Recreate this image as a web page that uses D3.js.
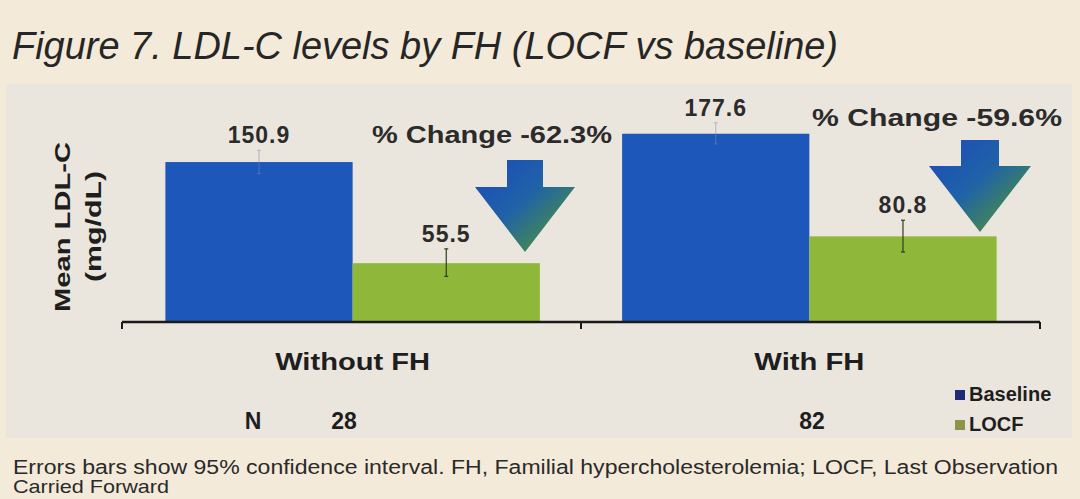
<!DOCTYPE html>
<html>
<head>
<meta charset="utf-8">
<script src="https://cdn.jsdelivr.net/npm/d3@7"></script>
<style>
  html, body { margin: 0; padding: 0; background: #f4ead9; }
  svg { display: block; }
  text { font-family: "Liberation Sans", Arial, sans-serif; fill: #1e1e1e; }
</style>
</head>
<body>
<svg id="chart" width="1080" height="499"></svg>
<script>
// data
const groups = ["Without FH", "With FH"];
const series = ["Baseline", "LOCF"];
const baseline = [150.9, 177.6];
const locf = [55.5, 80.8];
const baselineCI = [[140, 162], [168, 188]]; // 95% CI (estimated)
const locfCI = [[43, 69], [66, 96]];
const pctChange = ["-62.3%", "-59.6%"];
const nCounts = [28, 82];

const colors = { Baseline: "#1d57b9", LOCF: "#8fb83a" };

const svg = d3.select("#chart");

// panel behind chart
svg.append("rect")
  .attr("x", 6).attr("y", 84)
  .attr("width", 1066).attr("height", 354)
  .attr("fill", "#ebe6dd");

// title (condensed italic look)
svg.append("text")
  .attr("x", 12).attr("y", 59)
  .attr("font-size", 39)
  .attr("font-style", "italic")
  .attr("textLength", 826)
  .attr("lengthAdjust", "spacingAndGlyphs")
  .style("fill", "#262626")
  .text("Figure 7. LDL-C levels by FH (LOCF vs baseline)");

const axisY = 322;
const x0 = d3.scaleBand().domain(groups).range([122, 1040]).paddingInner(0.18).paddingOuter(0.095);
const x1 = d3.scaleBand().domain(series).range([0, x0.bandwidth()]);
const y = d3.scaleLinear().domain([0, 200]).range([axisY, axisY - 212]);

const rows = groups.map((g, i) => ({
  group: g,
  vals: [
    { s: "Baseline", v: baseline[i], ci: baselineCI[i] },
    { s: "LOCF", v: locf[i], ci: locfCI[i] }
  ]
}));

const gGroup = svg.selectAll(".grp")
  .data(rows)
  .enter().append("g")
  .attr("class", "grp")
  .attr("transform", d => "translate(" + x0(d.group) + ",0)");

// bars
gGroup.selectAll("rect")
  .data(d => d.vals)
  .enter().append("rect")
  .attr("x", d => x1(d.s))
  .attr("y", d => y(d.v))
  .attr("width", x1.bandwidth())
  .attr("height", d => y(0) - y(d.v))
  .attr("fill", d => colors[d.s]);

// error bars (baseline ones are faint in the original)
const ebColor = d => d.s === "Baseline" ? "#7f8ba6" : "#2f3d22";
const ebOpacity = d => d.s === "Baseline" ? 0.45 : 1;
const eb = gGroup.selectAll(".eb")
  .data(d => d.vals)
  .enter().append("g")
  .attr("class", "eb")
  .attr("opacity", ebOpacity)
  .attr("transform", d => "translate(" + (x1(d.s) + x1.bandwidth() / 2) + ",0)");
eb.append("line")
  .attr("y1", d => y(d.ci[0])).attr("y2", d => y(d.ci[1]))
  .attr("stroke", ebColor)
  .attr("stroke-width", 1.2);
eb.selectAll(".cap")
  .data(d => d.ci.map(c => ({ c: c, s: d.s })))
  .enter().append("line")
  .attr("x1", -2).attr("x2", 2)
  .attr("y1", d => y(d.c)).attr("y2", d => y(d.c))
  .attr("stroke", ebColor)
  .attr("stroke-width", 1.2);

// value labels
gGroup.selectAll(".val")
  .data(d => d.vals)
  .enter().append("text")
  .attr("class", "val")
  .attr("x", d => x1(d.s) + x1.bandwidth() / 2)
  .attr("y", d => y(d.ci[1]) - 7)
  .attr("text-anchor", "middle")
  .attr("font-size", 23)
  .attr("font-weight", "bold")
  .attr("letter-spacing", 1)
  .style("fill", "#2b2b2b")
  .text(d => d.v.toFixed(1));

// x axis
const xAxis = d3.axisBottom(x0).tickSize(0).tickFormat("");
const axG = svg.append("g")
  .attr("transform", "translate(0," + axisY + ")")
  .call(xAxis);
axG.select(".domain").remove();
axG.append("line")
  .attr("x1", 122).attr("x2", 1040)
  .attr("stroke", "#1a1a1a").attr("stroke-width", 2.5);
axG.selectAll(".sep")
  .data([122, (x0(groups[0]) + x0.bandwidth() + x0(groups[1])) / 2, 1040])
  .enter().append("line")
  .attr("x1", d => d).attr("x2", d => d)
  .attr("y1", 0).attr("y2", 7)
  .attr("stroke", "#1a1a1a").attr("stroke-width", 2);

// category labels
const catLen = [155, 110];
svg.selectAll(".cat")
  .data(groups)
  .enter().append("text")
  .attr("x", d => x0(d) + x0.bandwidth() / 2 - catLen[groups.indexOf(d)] / 2)
  .attr("y", 370)
  .attr("font-size", 23)
  .attr("font-weight", "bold")
  .attr("textLength", (d, i) => catLen[i])
  .attr("lengthAdjust", "spacingAndGlyphs")
  .text(d => d);

// N row
svg.append("text")
  .attr("x", 253).attr("y", 429)
  .attr("text-anchor", "middle")
  .attr("font-size", 23).attr("font-weight", "bold")
  .text("N");
svg.selectAll(".n")
  .data(nCounts)
  .enter().append("text")
  .attr("x", (d, i) => i === 0 ? 344 : 812)
  .attr("y", 429)
  .attr("text-anchor", "middle")
  .attr("font-size", 23).attr("font-weight", "bold")
  .text(d => d);

// y axis title
const yl = svg.append("g").attr("transform", "translate(70,227) rotate(-90)");
yl.append("text").attr("x", -85).attr("y", 0)
  .attr("font-size", 22).attr("font-weight", "bold")
  .attr("textLength", 170).attr("lengthAdjust", "spacingAndGlyphs")
  .text("Mean LDL-C");
yl.append("text").attr("x", -55).attr("y", 31)
  .attr("font-size", 22).attr("font-weight", "bold")
  .attr("textLength", 111).attr("lengthAdjust", "spacingAndGlyphs")
  .text("(mg/dL)");

// % change arrows
const defs = svg.append("defs");
const grad = defs.append("linearGradient")
  .attr("id", "arrowGrad")
  .attr("x1", "0%").attr("y1", "10%").attr("x2", "90%").attr("y2", "100%");
grad.append("stop").attr("offset", "0%").attr("stop-color", "#1d4cb8");
grad.append("stop").attr("offset", "45%").attr("stop-color", "#1f62a8");
grad.append("stop").attr("offset", "100%").attr("stop-color", "#559a2c");

const arrows = [
  { label: pctChange[0], tx: 372, len: 240, ty: 143, cx: 525, top: 160, neck: 187, tip: 252, shaft: 18, head: 50 },
  { label: pctChange[1], tx: 812, len: 250, ty: 126, cx: 980, top: 140, neck: 166, tip: 232, shaft: 19, head: 51 }
];
arrows.forEach(a => {
  const p = d3.path();
  p.moveTo(a.cx - a.shaft, a.top);
  p.lineTo(a.cx + a.shaft, a.top);
  p.lineTo(a.cx + a.shaft, a.neck);
  p.lineTo(a.cx + a.head, a.neck);
  p.lineTo(a.cx, a.tip);
  p.lineTo(a.cx - a.head, a.neck);
  p.lineTo(a.cx - a.shaft, a.neck);
  p.closePath();
  svg.append("path").attr("d", p.toString()).attr("fill", "url(#arrowGrad)");
  svg.append("text")
    .attr("x", a.tx).attr("y", a.ty)
    .attr("font-size", 24)
    .attr("font-weight", "bold")
    .attr("textLength", a.len)
    .attr("lengthAdjust", "spacingAndGlyphs")
    .style("fill", "#2b2b2b")
    .text("% Change " + a.label);
});

// legend
const leg = svg.selectAll(".leg")
  .data(series)
  .enter().append("g")
  .attr("transform", (d, i) => "translate(955," + (390 + i * 30) + ")");
leg.append("rect").attr("width", 10).attr("height", 10)
  .attr("fill", d => d === "Baseline" ? "#1f2b72" : "#8d9648");
leg.append("text")
  .attr("x", 14).attr("y", 11)
  .attr("font-size", 20).attr("font-weight", "bold")
  .text(d => d);

// footnote
svg.append("text")
  .attr("x", 13).attr("y", 474)
  .attr("font-size", 20)
  .attr("textLength", 1045)
  .attr("lengthAdjust", "spacingAndGlyphs")
  .style("fill", "#2a2a2a")
  .text("Errors bars show 95% confidence interval. FH, Familial hypercholesterolemia; LOCF, Last Observation");
svg.append("text")
  .attr("x", 13).attr("y", 493)
  .attr("font-size", 19)
  .attr("textLength", 156)
  .attr("lengthAdjust", "spacingAndGlyphs")
  .style("fill", "#2a2a2a")
  .text("Carried Forward");
</script>
</body>
</html>
